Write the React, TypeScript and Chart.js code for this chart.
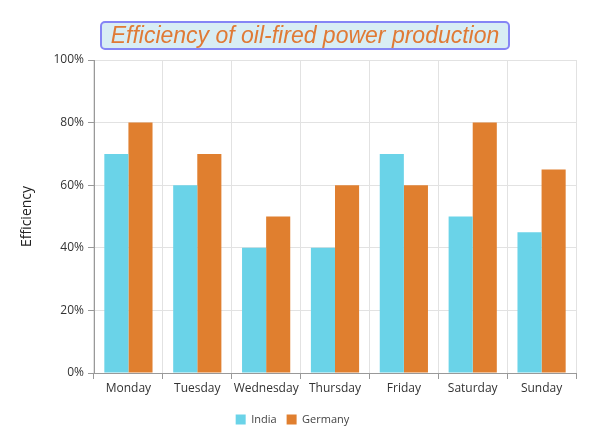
import { useEffect, useRef } from "react";
import { Chart, registerables } from "chart.js";

Chart.register(...registerables);

const days = ["Monday", "Tuesday", "Wednesday", "Thursday", "Friday", "Saturday", "Sunday"];
const india = [70, 60, 40, 40, 70, 50, 45];
const germany = [80, 70, 50, 60, 60, 80, 65];
const yTicks = [0, 20, 40, 60, 80, 100];

const tickFont = { family: "'Open Sans', 'Noto Sans', sans-serif", size: 12 };

export default function App() {
  const canvasRef = useRef<HTMLCanvasElement>(null);
  const chartRef = useRef<Chart | null>(null);

  useEffect(() => {
    document.body.style.margin = "0";
    const canvas = canvasRef.current;
    if (!canvas) return;

    chartRef.current = new Chart(canvas, {
      type: "bar",
      data: {
        labels: days,
        datasets: [
          {
            label: "India",
            data: india,
            backgroundColor: "#6ad3e8",
            categoryPercentage: 0.7,
            barPercentage: 1,
          },
          {
            label: "Germany",
            data: germany,
            backgroundColor: "#e07f2f",
            categoryPercentage: 0.7,
            barPercentage: 1,
          },
        ],
      },
      options: {
        animation: false,
        responsive: false,
        maintainAspectRatio: false,
        layout: { padding: { top: 60, left: 9, right: 21, bottom: 8 } },
        plugins: {
          title: { display: false },
          tooltip: { enabled: false },
          legend: {
            position: "bottom",
            labels: {
              boxWidth: 10,
              boxHeight: 10,
              padding: 10,
              color: "#444",
              font: { family: "'Open Sans', 'Noto Sans', sans-serif", size: 11 },
            },
          },
        },
        scales: {
          x: {
            afterFit: (scale: any) => {
              scale.height = 31;
            },
            grid: { color: "#e2e2e2", tickColor: "#999", tickLength: 6 },
            border: { color: "#999" },
            ticks: {
              color: "#333",
              font: tickFont,
              padding: 2,
              minRotation: 0,
              maxRotation: 0,
              autoSkip: false,
            },
          },
          y: {
            min: 0,
            max: 100,
            afterFit: (scale: any) => {
              scale.width = 85;
            },
            afterBuildTicks: (scale: any) => {
              scale.ticks = yTicks.map((v) => ({ value: v }));
            },
            grid: { color: "#e2e2e2", tickColor: "#999", tickLength: 6 },
            border: { color: "#999" },
            ticks: {
              color: "#333",
              font: tickFont,
              padding: 4,
              callback: (v: any) => v + "%",
            },
            title: {
              display: true,
              text: "Efficiency",
              color: "#222",
              font: { family: "'Open Sans', 'Noto Sans', sans-serif", size: 14 },
              padding: { top: 10, bottom: 0 },
            },
          },
        },
      },
    });

    return () => {
      if (chartRef.current) {
        chartRef.current.destroy();
        chartRef.current = null;
      }
    };
  }, []);

  return (
    <div style={{ position: "relative", width: 597, height: 443 }}>
      <canvas ref={canvasRef} width={597} height={443} style={{ display: "block" }} />
      <div
        style={{
          position: "absolute",
          left: 100,
          top: 21,
          width: 406,
          height: 25,
          border: "2px solid #8585f5",
          borderRadius: 5,
          background: "#d8edf4",
          color: "#e07a35",
          fontFamily: "'Liberation Sans', Arial, sans-serif",
          fontStyle: "italic",
          fontSize: 23,
          lineHeight: "25px",
          textAlign: "center",
          whiteSpace: "nowrap",
        }}
      >
        Efficiency of oil-fired power production
      </div>
    </div>
  );
}
